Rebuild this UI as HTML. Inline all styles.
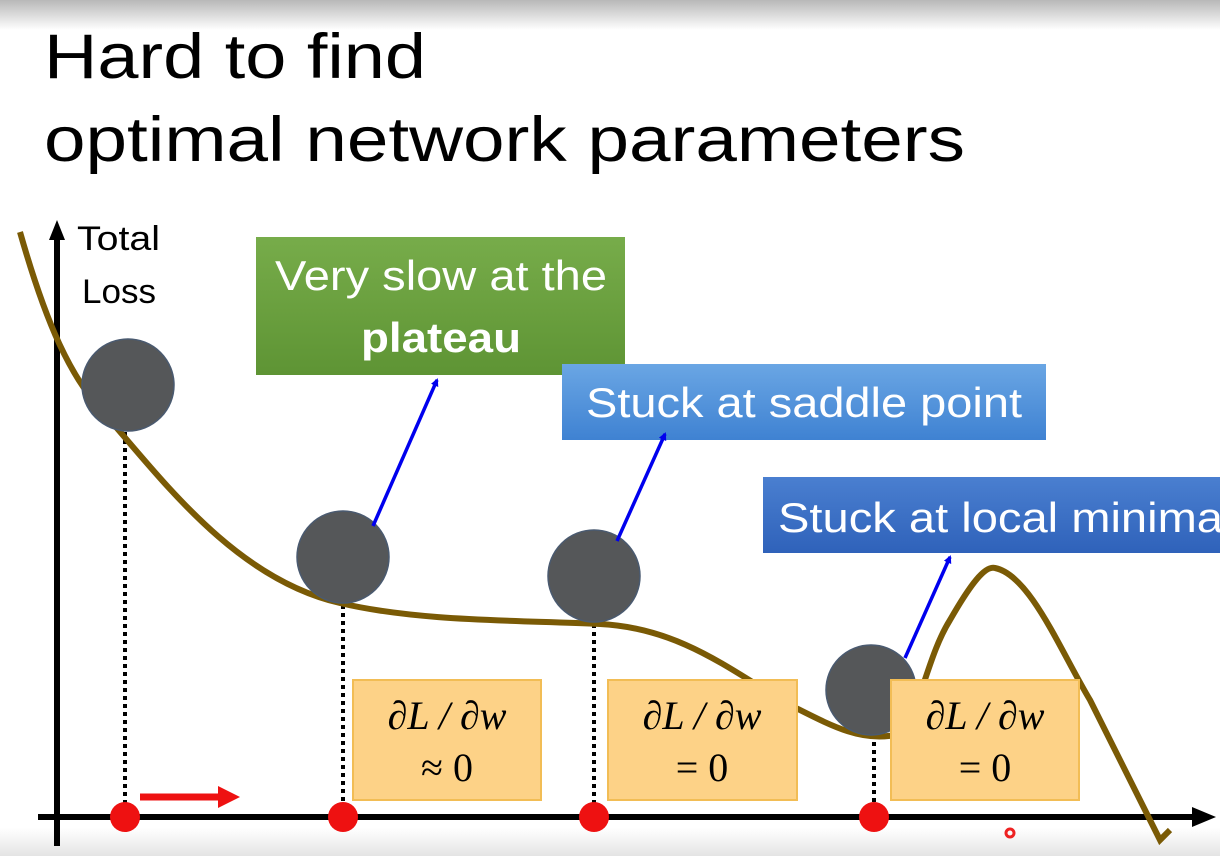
<!DOCTYPE html>
<html><head><meta charset="utf-8"><style>
html,body{margin:0;padding:0;background:#fff;}
svg{display:block;}
</style></head><body>
<svg width="1220" height="856" viewBox="0 0 1220 856" xmlns="http://www.w3.org/2000/svg" font-family="Liberation Sans, sans-serif">
<defs>
<linearGradient id="top" x1="0" y1="0" x2="0" y2="1"><stop offset="0" stop-color="#b8b8b8"/><stop offset="1" stop-color="#ffffff"/></linearGradient>
<linearGradient id="bot" x1="0" y1="0" x2="0" y2="1"><stop offset="0" stop-color="#ffffff"/><stop offset="1" stop-color="#e4e4e4"/></linearGradient>
<linearGradient id="grn" x1="0" y1="0" x2="0" y2="1"><stop offset="0" stop-color="#77ac4a"/><stop offset="1" stop-color="#5e9434"/></linearGradient>
<linearGradient id="blu" x1="0" y1="0" x2="0" y2="1"><stop offset="0" stop-color="#6aa6e4"/><stop offset="1" stop-color="#3f82d2"/></linearGradient>
<linearGradient id="blu2" x1="0" y1="0" x2="0" y2="1"><stop offset="0" stop-color="#4a7fd0"/><stop offset="1" stop-color="#2f62ba"/></linearGradient>
<marker id="ah" markerWidth="8" markerHeight="8" refX="6" refY="4" orient="auto" markerUnits="userSpaceOnUse"><path d="M0,0 L8,4 L0,8 z" fill="#0000ee"/></marker>
</defs>
<rect x="0" y="0" width="1220" height="30" fill="url(#top)"/>
<rect x="0" y="828" width="1220" height="28" fill="url(#bot)"/>
<text x="44" y="78" font-size="63" fill="#000" textLength="382" lengthAdjust="spacingAndGlyphs">Hard to find</text>
<text x="44" y="161" font-size="63" fill="#000" textLength="921" lengthAdjust="spacingAndGlyphs">optimal network parameters</text>

<line x1="57" y1="236" x2="57" y2="846" stroke="#000" stroke-width="6"/>
<path d="M49,240 L57,220 L65,240 z" fill="#000"/>
<line x1="38" y1="817" x2="1200" y2="817" stroke="#000" stroke-width="6"/>
<path d="M1192,807 L1216,817 L1192,827 z" fill="#000"/>
<text x="77" y="250" font-size="34" fill="#000" textLength="83" lengthAdjust="spacingAndGlyphs">Total</text>
<text x="82" y="303" font-size="34" fill="#000" textLength="74" lengthAdjust="spacingAndGlyphs">Loss</text>

<g stroke="#000" stroke-width="4" stroke-dasharray="4,4">
<line x1="125" y1="432" x2="125" y2="806"/>
<line x1="343" y1="605" x2="343" y2="806"/>
<line x1="594" y1="624" x2="594" y2="806"/>
<line x1="874" y1="742" x2="874" y2="806"/>
</g>

<path d="M20,232 C45,320 70,380 110,420 C170,490 240,580 340,603 C420,622 520,620 600,624 C680,628 730,670 790,705 C830,725 860,742 895,735 C920,720 925,660 950,620 C970,585 985,565 995,568 C1030,575 1060,650 1090,700 C1120,760 1140,800 1160,840 L1170,830" fill="none" stroke="#7a5a05" stroke-width="6"/>

<g fill="#555759" stroke="#4a5a70" stroke-width="1.5">
<circle cx="128" cy="385" r="46"/>
<circle cx="343" cy="557" r="46"/>
<circle cx="594" cy="576" r="46"/>
<circle cx="871" cy="690" r="45"/>
</g>

<g fill="#ee1111">
<circle cx="125" cy="817" r="15"/>
<circle cx="343" cy="817" r="15"/>
<circle cx="594" cy="817" r="15"/>
<circle cx="874" cy="817" r="15"/>
</g>
<circle cx="1010" cy="833" r="4" fill="none" stroke="#ee2222" stroke-width="3"/>
<line x1="140" y1="797" x2="222" y2="797" stroke="#ee1111" stroke-width="7"/>
<path d="M218,786 L240,797 L218,808 z" fill="#ee1111"/>

<rect x="256" y="237" width="369" height="138" fill="url(#grn)"/>
<text x="275" y="290" font-size="42" fill="#fff" textLength="332" lengthAdjust="spacingAndGlyphs">Very slow at the</text>
<text x="361" y="352" font-size="42" fill="#fff" font-weight="bold" textLength="160" lengthAdjust="spacingAndGlyphs">plateau</text>

<rect x="562" y="364" width="484" height="76" fill="url(#blu)"/>
<text x="586" y="417" font-size="42" fill="#fff" textLength="436" lengthAdjust="spacingAndGlyphs">Stuck at saddle point</text>

<rect x="763" y="477" width="460" height="76" fill="url(#blu2)"/>
<text x="778" y="532" font-size="42" fill="#fff" textLength="445" lengthAdjust="spacingAndGlyphs">Stuck at local minima</text>

<g stroke="#0000ee" stroke-width="3.5" marker-end="url(#ah)">
<line x1="373" y1="526" x2="437" y2="380"/>
<line x1="617" y1="541" x2="665" y2="434"/>
<line x1="905" y1="658" x2="950" y2="557"/>
</g>

<g fill="#fdd287" stroke="#f2bd55" stroke-width="2">
<rect x="353" y="680" width="188" height="120"/>
<rect x="608" y="680" width="189" height="120"/>
<rect x="891" y="680" width="188" height="120"/>
</g>
<g font-family="Liberation Serif, serif" font-size="40" fill="#000" text-anchor="middle" font-style="italic">
<text x="447" y="729">∂L / ∂w</text>
<text x="702" y="729">∂L / ∂w</text>
<text x="985" y="729">∂L / ∂w</text>
</g>
<g font-family="Liberation Serif, serif" font-size="40" fill="#000" text-anchor="middle">
<text x="447" y="781">≈ 0</text>
<text x="702" y="781">= 0</text>
<text x="985" y="781">= 0</text>
</g>
</svg>
</body></html>
